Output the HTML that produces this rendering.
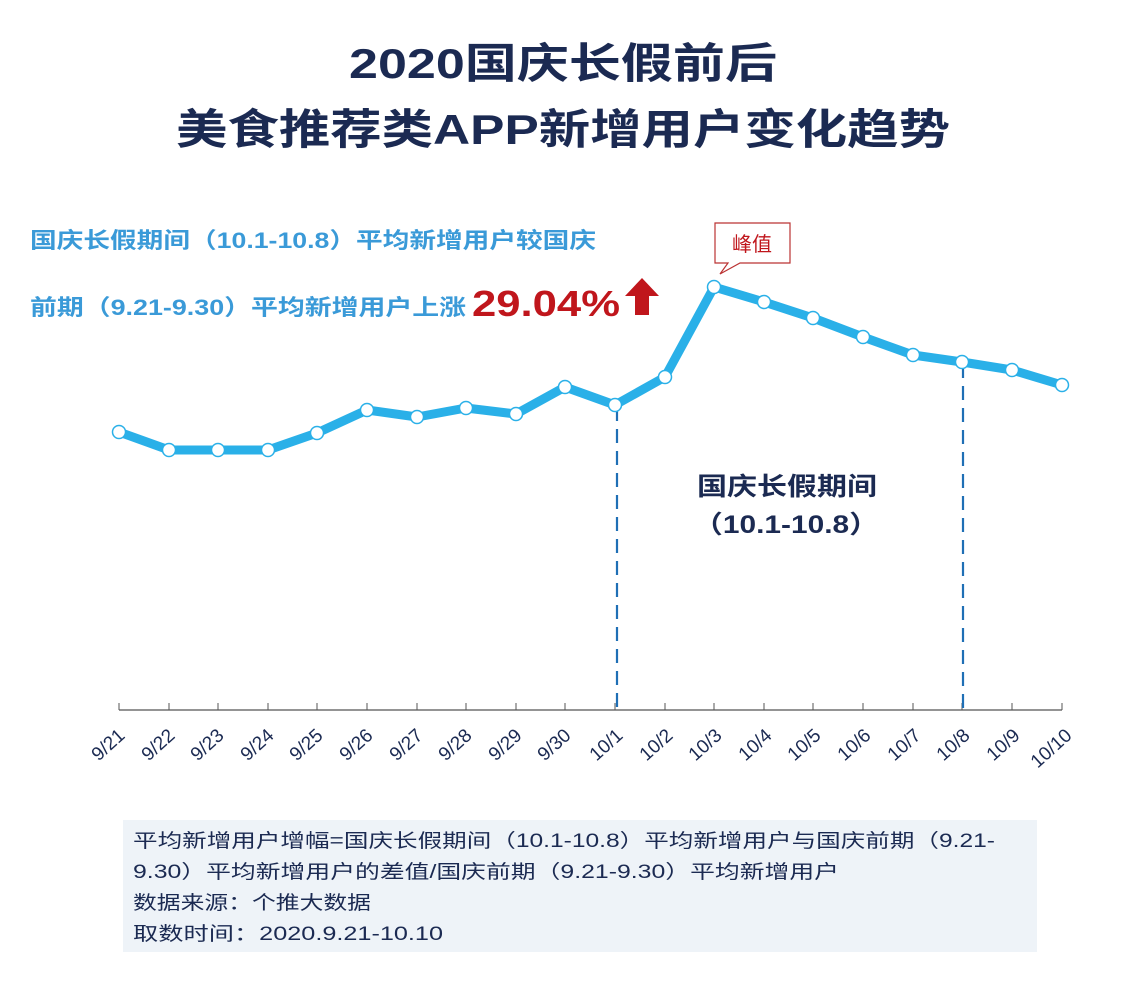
<!DOCTYPE html>
<html><head><meta charset="utf-8"><style>
body{margin:0;width:1129px;height:979px;background:#fff;overflow:hidden;font-family:"Liberation Sans","Noto Sans CJK SC",sans-serif;}
</style></head><body>
<svg width="1129" height="979" viewBox="0 0 1129 979" xmlns="http://www.w3.org/2000/svg" style="font-family:'Liberation Sans','Noto Sans CJK SC',sans-serif">
<text x="349" y="78" font-size="42" font-weight="bold" fill="#1b2a52" textLength="428" lengthAdjust="spacingAndGlyphs">2020国庆长假前后</text>
<text x="176" y="144" font-size="42" font-weight="bold" fill="#1b2a52" textLength="774" lengthAdjust="spacingAndGlyphs">美食推荐类APP新增用户变化趋势</text>
<text x="30" y="248" font-size="22" font-weight="bold" fill="#3a9ad8" textLength="566" lengthAdjust="spacingAndGlyphs">国庆长假期间（10.1-10.8）平均新增用户较国庆</text>
<text x="30" y="315" font-size="22" font-weight="bold" fill="#3a9ad8" textLength="436" lengthAdjust="spacingAndGlyphs">前期（9.21-9.30）平均新增用户上涨</text>
<text x="472" y="316" font-size="36" font-weight="bold" fill="#c0161c" textLength="148" lengthAdjust="spacingAndGlyphs">29.04%</text>
<polygon points="642,278 659,296 649,296 649,315 635,315 635,296 625,296" fill="#c0161c"/>
<path d="M715,223 H790 V263 H740 L720,274 L728,263 H715 Z" fill="#fff" stroke="#b33" stroke-width="1.2"/>
<text x="752" y="251" text-anchor="middle" font-size="20" fill="#c0161c">峰值</text>
<line x1="119" y1="710" x2="1062" y2="710" stroke="#555" stroke-width="1.2"/>
<g stroke="#555" stroke-width="1"><path d="M119,703V710M169,703V710M218,703V710M268,703V710M317,703V710M367,703V710M417,703V710M466,703V710M516,703V710M565,703V710M615,703V710M665,703V710M714,703V710M764,703V710M813,703V710M863,703V710M913,703V710M962,703V710M1012,703V710M1062,703V710"/></g>
<line x1="617" y1="407" x2="617" y2="714" stroke="#1f6fb5" stroke-width="2.2" stroke-dasharray="14,8"/>
<line x1="963" y1="364" x2="963" y2="714" stroke="#1f6fb5" stroke-width="2.2" stroke-dasharray="14,8"/>
<text x="697" y="495" font-size="25" font-weight="bold" fill="#1b2a52" textLength="180" lengthAdjust="spacingAndGlyphs">国庆长假期间</text>
<text x="693" y="533" font-size="25" font-weight="bold" fill="#1b2a52" textLength="186" lengthAdjust="spacingAndGlyphs">（10.1-10.8）</text>
<polyline fill="none" stroke="#2ab0e8" stroke-width="9" stroke-linejoin="round" points="119,432 169,450 218,450 268,450 317,433 367,410 417,417 466,408 516,414 565,387 615,405 665,377 714,287 764,302 813,318 863,337 913,355 962,362 1012,370 1062,385"/>
<g fill="#fff" stroke="#2ab0e8" stroke-width="1.5">
<circle cx="119" cy="432" r="6.5"/><circle cx="169" cy="450" r="6.5"/><circle cx="218" cy="450" r="6.5"/><circle cx="268" cy="450" r="6.5"/><circle cx="317" cy="433" r="6.5"/><circle cx="367" cy="410" r="6.5"/><circle cx="417" cy="417" r="6.5"/><circle cx="466" cy="408" r="6.5"/><circle cx="516" cy="414" r="6.5"/><circle cx="565" cy="387" r="6.5"/><circle cx="615" cy="405" r="6.5"/><circle cx="665" cy="377" r="6.5"/><circle cx="714" cy="287" r="6.5"/><circle cx="764" cy="302" r="6.5"/><circle cx="813" cy="318" r="6.5"/><circle cx="863" cy="337" r="6.5"/><circle cx="913" cy="355" r="6.5"/><circle cx="962" cy="362" r="6.5"/><circle cx="1012" cy="370" r="6.5"/><circle cx="1062" cy="385" r="6.5"/>
</g>
<g font-size="19" fill="#1b2a52">
<text transform="translate(126,737) rotate(-42)" text-anchor="end">9/21</text>
<text transform="translate(176,737) rotate(-42)" text-anchor="end">9/22</text>
<text transform="translate(225,737) rotate(-42)" text-anchor="end">9/23</text>
<text transform="translate(275,737) rotate(-42)" text-anchor="end">9/24</text>
<text transform="translate(324,737) rotate(-42)" text-anchor="end">9/25</text>
<text transform="translate(374,737) rotate(-42)" text-anchor="end">9/26</text>
<text transform="translate(424,737) rotate(-42)" text-anchor="end">9/27</text>
<text transform="translate(473,737) rotate(-42)" text-anchor="end">9/28</text>
<text transform="translate(523,737) rotate(-42)" text-anchor="end">9/29</text>
<text transform="translate(572,737) rotate(-42)" text-anchor="end">9/30</text>
<text transform="translate(624,737) rotate(-42)" text-anchor="end">10/1</text>
<text transform="translate(674,737) rotate(-42)" text-anchor="end">10/2</text>
<text transform="translate(723,737) rotate(-42)" text-anchor="end">10/3</text>
<text transform="translate(773,737) rotate(-42)" text-anchor="end">10/4</text>
<text transform="translate(822,737) rotate(-42)" text-anchor="end">10/5</text>
<text transform="translate(872,737) rotate(-42)" text-anchor="end">10/6</text>
<text transform="translate(922,737) rotate(-42)" text-anchor="end">10/7</text>
<text transform="translate(971,737) rotate(-42)" text-anchor="end">10/8</text>
<text transform="translate(1021,737) rotate(-42)" text-anchor="end">10/9</text>
<text transform="translate(1073,737) rotate(-42)" text-anchor="end">10/10</text>
</g>
<rect x="123" y="820" width="914" height="132" fill="#eef3f8"/>
<g font-size="19" fill="#1b2a52">
<text x="133" y="847" textLength="862" lengthAdjust="spacingAndGlyphs">平均新增用户增幅=国庆长假期间（10.1-10.8）平均新增用户与国庆前期（9.21-</text>
<text x="133" y="878" textLength="706" lengthAdjust="spacingAndGlyphs">9.30）平均新增用户的差值/国庆前期（9.21-9.30）平均新增用户</text>
<text x="133" y="909" textLength="238" lengthAdjust="spacingAndGlyphs">数据来源：个推大数据</text>
<text x="133" y="940" textLength="310" lengthAdjust="spacingAndGlyphs">取数时间：2020.9.21-10.10</text>
</g>
</svg>
</body></html>
